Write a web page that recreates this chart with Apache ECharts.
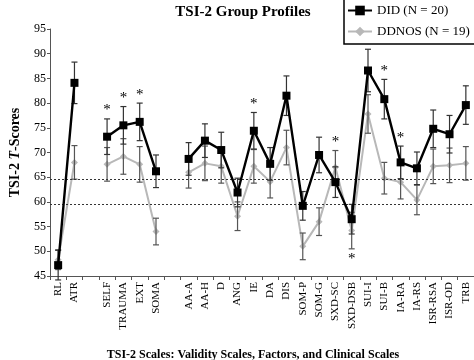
<!DOCTYPE html>
<html><head><meta charset="utf-8">
<script src="https://cdn.jsdelivr.net/npm/echarts@6/dist/echarts.min.js"></script>
<style>html,body{margin:0;padding:0;background:#fff}#c{width:474px;height:360px}</style>
</head><body><div id="c"></div>
<script>
const categories = ['RL','ATR','','SELF','TRAUMA','EXT','SOMA','','AA-A','AA-H','D','ANG','IE','DA','DIS','SOM-P','SOM-G','SXD-SC','SXD-DSB','SUI-I','SUI-B','IA-RA','IA-RS','ISR-RSA','ISR-OD','TRB'];
const didMean   = [47.2, 84.1, null, 73.2, 75.5, 76.2, 66.2, null, 68.7, 72.4, 70.5, 61.9, 74.4, 67.7, 81.5, 59.2, 69.5, 64.0, 56.5, 86.6, 80.8, 68.0, 66.8, 74.8, 73.7, 79.6];
const didErr    = [3.0, 4.2, null, 3.6, 3.8, 3.8, 3.3, null, 3.3, 3.4, 3.6, 2.9, 3.7, 3.3, 4.0, 2.9, 3.6, 3.1, 3.0, 4.3, 4.0, 3.3, 3.3, 3.8, 3.8, 3.9];
const ddnosMean = [48.3, 68.0, null, 67.6, 69.2, 67.6, 54.0, null, 66.0, 67.8, 67.2, 57.1, 67.2, 64.1, 71.0, 51.0, 56.0, 67.0, 54.2, 77.8, 64.8, 64.0, 60.4, 67.2, 67.4, 67.8];
const ddnosErr  = [2.0, 3.4, null, 3.4, 3.6, 3.6, 2.7, null, 3.2, 3.5, 3.4, 2.9, 3.4, 3.3, 3.5, 2.7, 2.8, 3.4, 3.7, 3.9, 3.2, 3.4, 3.0, 3.5, 3.5, 3.4];
// 1 = asterisk above, -1 = asterisk below, 0 = none
const sigMarks  = [0, 0, 0, 1, 1, 1, 0, 0, 0, 0, 0, 0, 1, 0, 0, 0, 0, 1, -1, 0, 1, 1, 0, 0, 0, 0];
const refLines  = [64.5, 59.5];
const yTicks = {min: 45, max: 95, interval: 5};

const SERIF = '"Liberation Serif", "DejaVu Serif", serif';

function errData(mean, err) {
  const out = [];
  mean.forEach((m, i) => { if (m != null) out.push([i, m - err[i], m + err[i]]); });
  return out;
}
function errRender(color) {
  return function (params, api) {
    const x = api.value(0), lo = api.value(1), hi = api.value(2);
    const p1 = api.coord([x, hi]), p2 = api.coord([x, lo]);
    const w = 3;
    const st = {stroke: color, lineWidth: 1.2};
    return {type: 'group', children: [
      {type: 'line', shape: {x1: p1[0], y1: p1[1], x2: p2[0], y2: p2[1]}, style: st},
      {type: 'line', shape: {x1: p1[0] - w, y1: p1[1], x2: p1[0] + w, y2: p1[1]}, style: st},
      {type: 'line', shape: {x1: p2[0] - w, y1: p2[1], x2: p2[0] + w, y2: p2[1]}, style: st}
    ]};
  };
}
const starData = [];
sigMarks.forEach((s, i) => {
  if (s === 1) starData.push([i, Math.max(didMean[i] + didErr[i], ddnosMean[i] + ddnosErr[i]), 1]);
  if (s === -1) starData.push([i, Math.min(didMean[i] - didErr[i], ddnosMean[i] - ddnosErr[i]), -1]);
});

const chart = echarts.init(document.getElementById('c'), null, {renderer: 'canvas'});
chart.setOption({
  animation: false,
  backgroundColor: '#fff',
  title: [
    {text: 'TSI-2 Group Profiles', left: 238, top: 0, textAlign: 'center',
     textStyle: {fontFamily: SERIF, fontWeight: 'bold', fontSize: 15, color: '#000'}},
    {text: 'TSI-2 Scales: Validity Scales, Factors, and Clinical Scales', left: 248, top: 344, textAlign: 'center',
     textStyle: {fontFamily: SERIF, fontWeight: 'bold', fontSize: 12, color: '#000'}}
  ],
  legend: {
    orient: 'vertical', left: 344, top: -2,
    padding: [6, 10, 6, 3], itemGap: 8, itemWidth: 24, itemHeight: 12,
    borderColor: '#000', borderWidth: 1.5, backgroundColor: '#fff',
    textStyle: {fontFamily: SERIF, fontSize: 13, color: '#000'},
    data: ['DID (N = 20)', 'DDNOS (N = 19)']
  },
  grid: {left: 42, right: 0, top: 29, bottom: 84, containLabel: false},
  xAxis: {
    type: 'category', data: categories, boundaryGap: true,
    axisLine: {lineStyle: {color: '#555', width: 1}},
    axisTick: {show: true, length: 4, lineStyle: {color: '#555'}},
    axisLabel: {rotate: 90, interval: 0, margin: 6, fontFamily: SERIF, fontSize: 11, color: '#000'}
  },
  yAxis: {
    type: 'value', min: yTicks.min, max: yTicks.max, interval: yTicks.interval,
    splitLine: {show: false},
    axisLine: {show: true, lineStyle: {color: '#555', width: 1}},
    axisTick: {show: true, length: 3, lineStyle: {color: '#555'}},
    axisLabel: {margin: 4, fontFamily: SERIF, fontSize: 12, color: '#000'},
    name: '{a|TSI-2 }{b|T}{a|-Scores}', nameLocation: 'middle', nameGap: 28, nameRotate: 90,
    nameTextStyle: {rich: {
      a: {fontFamily: SERIF, fontWeight: 'bold', fontSize: 14, color: '#000'},
      b: {fontFamily: SERIF, fontWeight: 'bold', fontStyle: 'italic', fontSize: 14, color: '#000'}
    }}
  },
  series: [
    {name: 'DDNOS (N = 19)', type: 'line', data: ddnosMean, connectNulls: false, z: 2,
     symbol: 'diamond', symbolSize: 7,
     itemStyle: {color: '#b8b8b8'}, lineStyle: {color: '#b8b8b8', width: 2}},
    {type: 'custom', data: errData(ddnosMean, ddnosErr), renderItem: errRender('#555'), z: 3, silent: true},
    {type: 'custom', data: errData(didMean, didErr), renderItem: errRender('#333'), z: 4, silent: true},
    {name: 'DID (N = 20)', type: 'line', data: didMean, connectNulls: false, z: 5,
     symbol: 'rect', symbolSize: 8,
     itemStyle: {color: '#000'}, lineStyle: {color: '#000', width: 2.4},
     markLine: {silent: true, symbol: 'none', label: {show: false},
       lineStyle: {color: '#333', type: [2, 2], width: 1},
       data: refLines.map(v => ({yAxis: v}))}},
    {type: 'custom', data: starData, z: 6, silent: true,
     renderItem: function (params, api) {
       const p = api.coord([api.value(0), api.value(1)]);
       const dir = api.value(2);
       return {type: 'text', x: p[0], y: dir > 0 ? p[1] - 1 : p[1] + 3,
         style: {text: '*', textAlign: 'center', textVerticalAlign: dir > 0 ? 'bottom' : 'top',
           fontFamily: SERIF, fontSize: 15, fill: '#000'}};
     }}
  ]
});
</script></body></html>
